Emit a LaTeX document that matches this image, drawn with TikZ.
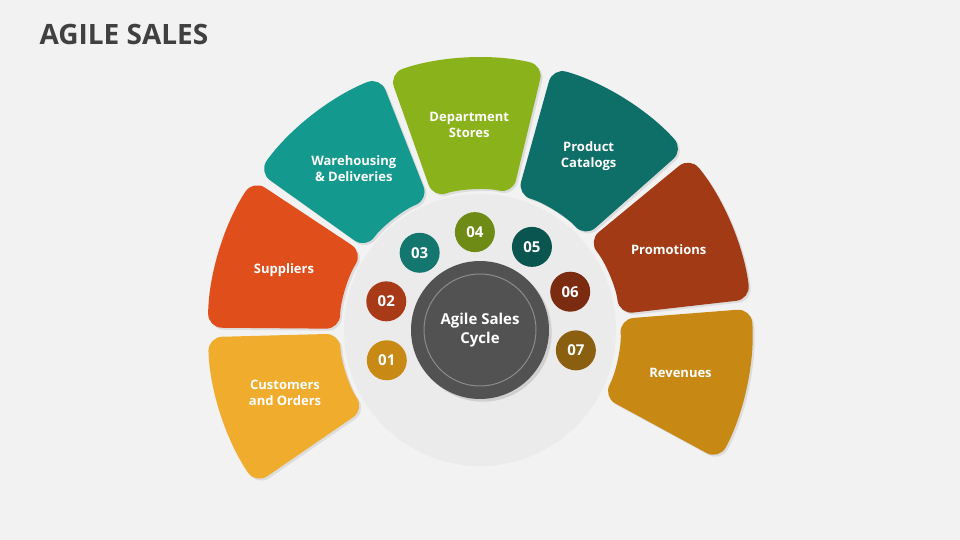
\documentclass[tikz,border=0pt]{standalone}
\usepackage{fontspec}
\setmainfont{Open Sans}
\usetikzlibrary{shadows}
\definecolor{bg}{HTML}{F2F2F2}
\definecolor{cA}{HTML}{F0AC2C}\definecolor{nA}{HTML}{C88A14}
\definecolor{cB}{HTML}{E04E1C}\definecolor{nB}{HTML}{A83A18}
\definecolor{cC}{HTML}{14998E}\definecolor{nC}{HTML}{13776F}
\definecolor{cD}{HTML}{8AB21A}\definecolor{nD}{HTML}{6E8C15}
\definecolor{cE}{HTML}{0E6E68}\definecolor{nE}{HTML}{0B5550}
\definecolor{cF}{HTML}{A33A16}\definecolor{nF}{HTML}{7A2B10}
\definecolor{cG}{HTML}{C88914}\definecolor{nG}{HTML}{8A6010}
\begin{document}
\begin{tikzpicture}[x=1pt,y=1pt,
  seglabel/.style={text=white,font=\fontsize{13}{16}\selectfont\bfseries,align=center},
  numdot/.style={circle,minimum size=40pt,inner sep=0pt,text=white,font=\fontsize{15}{18}\selectfont\bfseries},
  segshape/.style={rounded corners=14pt,draw=none,drop shadow={opacity=0.18,shadow xshift=2pt,shadow yshift=-2pt}}]
\fill[bg] (0,0) rectangle (960,540);
\useasboundingbox (0,0) rectangle (960,540);
\node[anchor=west,text=black!75,font=\fontsize{28}{32}\selectfont\bfseries] (title) at (36,505) {AGILE SALES};
\coordinate (c) at (480,210);
\fill[white!92!black] (c) circle (136);
\foreach \col/\mid/\txt/\num/\ncol [count=\i] in {
  cA/198/{Customers\\and Orders}/01/nA,
  cB/163/{Suppliers}/02/nB,
  cC/128/{Warehousing\\\& Deliveries}/03/nC,
  cD/93/{Department\\Stores}/04/nD,
  cE/58/{Product\\Catalogs}/05/nE,
  cF/23/{Promotions}/06/nF,
  cG/-12/{Revenues}/07/nG}{
  \pgfmathsetmacro\aone{\mid+16.5}
  \pgfmathsetmacro\atwo{\mid-16.5}
  \fill[\col,segshape] ([shift={(\aone:140)}]c) arc[start angle=\aone,end angle=\atwo,radius=140]
     -- ([shift={(\atwo:272)}]c) arc[start angle=\atwo,end angle=\aone,radius=272] -- cycle;
  \node[seglabel] (seg\i) at ([shift={(\mid:205)}]c) {\txt};
  \node[numdot,fill=\ncol] (num\i) at ([shift={(\mid:98)}]c) {\num};
}
\node[circle,fill=black!68,minimum size=138pt,inner sep=0pt,drop shadow={opacity=0.25}] (hub) at (c) {};
\draw[black!45,line width=1pt] (hub.center) circle (56);
\node[seglabel,font=\fontsize{15}{19}\selectfont\bfseries] (hubtxt) at (c) {Agile Sales\\Cycle};
\end{tikzpicture}
\end{document}
